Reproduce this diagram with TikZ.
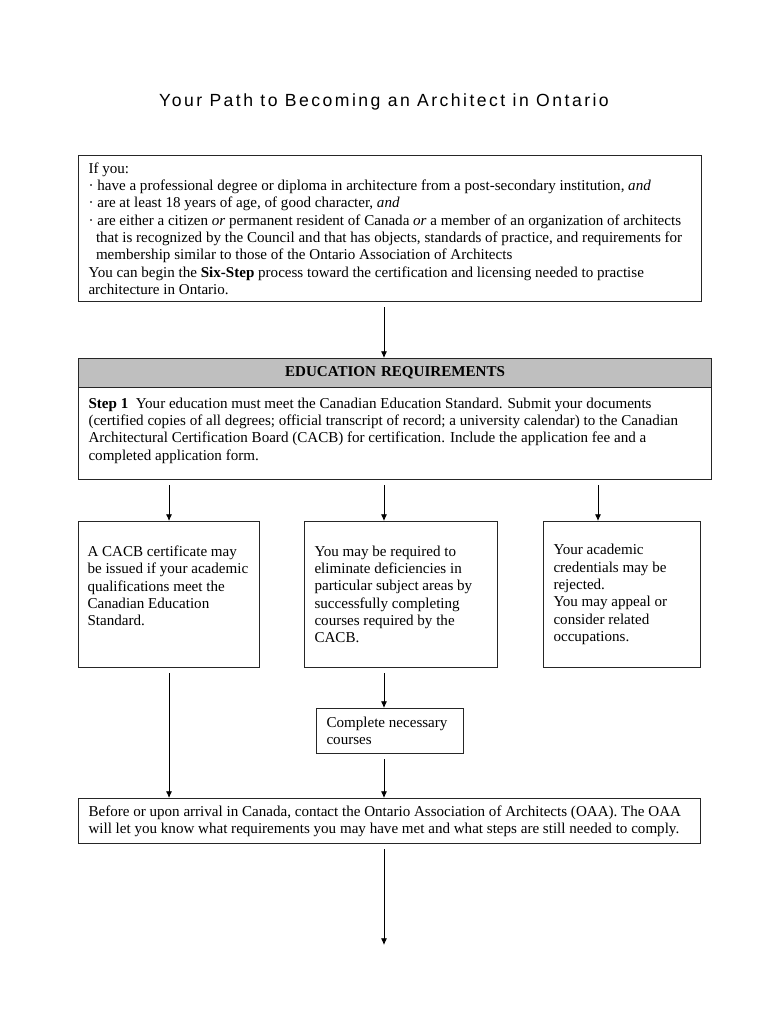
\documentclass[tikz,border=0pt]{standalone}
\usepackage{fontspec}
\setmainfont{Liberation Serif}
\newfontfamily\titlefont[LetterSpace=14]{Liberation Sans}
\usepackage{tikz}
\usetikzlibrary{arrows.meta, positioning}
\newdimen\pxu
\pxu=0.75pt

\begin{document}
\begin{tikzpicture}[x=0.75pt, y=-0.75pt,
    every node/.style={font=\fontsize{11.3}{13}\selectfont},
    box/.style={draw=black!85, line width=0.8pt, anchor=north west, inner xsep=10\pxu, inner ysep=0pt, align=flush left},
    arr/.style={-{Latex[length=5pt,width=4.5pt]}, line width=0.6pt, shorten <=4pt}]
    \useasboundingbox (0,0) rectangle (768,1024);
    \node[font=\titlefont\fontsize{13.2}{15}\selectfont] (title) at (384,102) {Your Path to Becoming an Architect in Ontario};
    \node[box, text width=603\pxu, minimum height=146\pxu] (intro) at (78,155) {If you:\\
        · have a professional degree or diploma in architecture from a post-secondary institution, \textit{and}\\
        · are at least 18 years of age, of good character, \textit{and}\\
        · are either a citizen \textit{or} permanent resident of Canada \textit{or} a member of an organization of architects\\
        \hspace*{5.6pt}that is recognized by the Council and that has objects, standards of practice, and requirements for\\
        \hspace*{5.6pt}membership similar to those of the Ontario Association of Architects\\
        You can begin the \textbf{Six-Step} process toward the certification and licensing needed to practise\\
        architecture in Ontario.};
    \node[box, fill=black!25, text width=613\pxu, minimum height=29\pxu, align=center,
        font=\fontsize{11.3}{13}\selectfont\bfseries] (eduhead) at (78,358) {EDUCATION REQUIREMENTS};
    \node[box, text width=613\pxu, minimum height=92\pxu] (edu) at (78,387) {\textbf{Step 1}\ \ Your education must meet the Canadian Education Standard. Submit your documents\\
        (certified copies of all degrees; official transcript of record; a university calendar) to the Canadian\\
        Architectural Certification Board (CACB) for certification. Include the application fee and a\\
        completed application form.\\[-6pt]
        \mbox{}};
    \node[box, inner xsep=9\pxu, text width=163\pxu, minimum height=146\pxu] (boxa) at (78,521) {A CACB certificate may\\
        be issued if your academic\\
        qualifications meet the\\
        Canadian Education\\
        Standard.\\
        \mbox{}};
    \node[box, text width=173\pxu, minimum height=146\pxu] (boxb) at (304,521) {You may be required to\\
        eliminate deficiencies in\\
        particular subject areas by\\
        successfully completing\\
        courses required by the\\
        CACB.};
    \node[box, text width=137\pxu, minimum height=146\pxu] (boxc) at (543,521) {Your academic\\
        credentials may be\\
        rejected.\\
        You may appeal or\\
        consider related\\
        occupations.};
    \node[box, text width=127\pxu, minimum height=45\pxu] (courses) at (316,708) {Complete necessary\\
        courses};
    \node[box, text width=602\pxu, minimum height=45\pxu] (oaa) at (78,798) {Before or upon arrival in Canada, contact the Ontario Association of Architects (OAA). The OAA\\
        will let you know what requirements you may have met and what steps are still needed to comply.};
    % arrow columns
    \coordinate (cm) at (384,0);
    \coordinate (cr) at (598,0);
    \coordinate (stop) at (384,945);
    \draw[arr] (intro.south -| cm) -- (eduhead.north -| cm);
    \draw[arr] (edu.south -| boxa.north) -- (boxa.north);
    \draw[arr] (edu.south -| cm) -- (boxb.north -| cm);
    \draw[arr] (edu.south -| cr) -- (boxc.north -| cr);
    \draw[arr] (boxa.south) -- (oaa.north -| boxa.south);
    \draw[arr] (boxb.south -| cm) -- (courses.north -| cm);
    \draw[arr] (courses.south -| cm) -- (oaa.north -| cm);
    \draw[arr] (oaa.south -| cm) -- (stop);
\end{tikzpicture}
\end{document}
